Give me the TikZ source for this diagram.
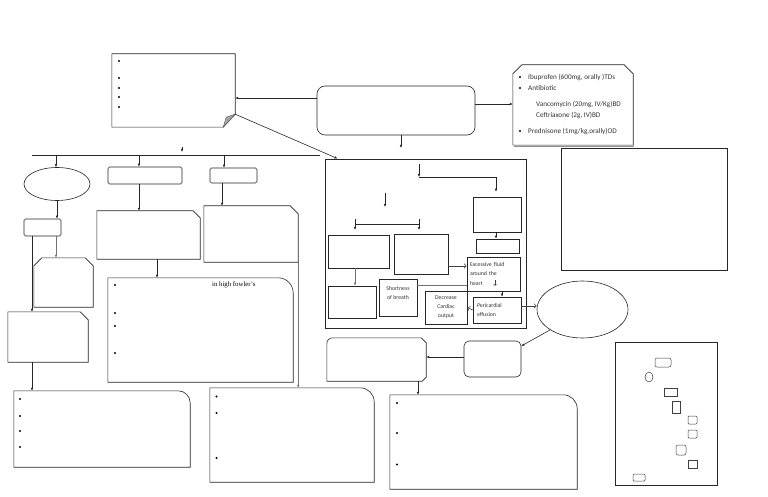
\documentclass[tikz,border=0pt]{standalone}
\usepackage{fontspec}
\setmainfont{Carlito}
\newfontfamily\serifnote{Liberation Serif}
\usetikzlibrary{arrows.meta,shapes.geometric}
\newcommand\nechamf[2]{\draw[ln] (#1.south west) -- (#1.north west) -- ([xshift=-#2]#1.north east) -- ([yshift=-#2]#1.north east) -- (#1.south east) -- cycle;}
\newcommand\twochamf[2]{\draw[ln] (#1.south west) -- ([yshift=-#2]#1.north west) -- ([xshift=#2]#1.north west) -- ([xshift=-#2]#1.north east) -- ([yshift=-#2]#1.north east) -- (#1.south east) -- cycle;}
\newcommand\nercorner[2]{\draw[ln] (#1.south west) -- (#1.north west) -- ([xshift=-#2]#1.north east) .. controls ([xshift=-0.45*#2]#1.north east) and ([yshift=-0.45*#2]#1.north east) .. ([yshift=-#2]#1.north east) -- (#1.south east) -- cycle;}
\begin{document}
\begin{tikzpicture}[x=1pt,y=-1pt,
  ln/.style={draw=black!85, line width=0.6pt},
  gln/.style={draw=black!55, line width=0.6pt},
  box/.style={ln, rectangle, inner sep=0pt},
  blank/.style={draw=none, rectangle, inner sep=0pt},
  oval/.style={ln, ellipse, inner sep=0pt},
  arr/.style={draw=black!85, line width=0.6pt, -{Latex[length=3pt,width=2.6pt]}},
  garr/.style={draw=black!55, line width=0.6pt, -{Latex[length=3pt,width=2.6pt]}},
  oarr/.style={draw=black!75, line width=0.6pt, -{Straight Barb[length=2.2pt,width=4.5pt]}},
  mtxt/.style={font=\fontsize{7.2}{8}\selectfont, text=black!80, inner sep=0pt},
  stxt/.style={font=\fontsize{5.8}{9}\selectfont, text=black!80, inner sep=0pt},
  small/.style={draw=black!75, line width=0.5pt, rectangle, inner sep=0pt},
]
\useasboundingbox (0,0) rectangle (768,497);
\fill[white] (0,0) rectangle (768,497);

% ---------- top row ----------
\node[blank, minimum width=123pt, minimum height=73pt] (tl) at (173.5,90.5) {};
\draw[ln] (tl.north west) -- (tl.north east) -- ([yshift=13pt]tl.south east) -- ([xshift=-12pt]tl.south east) -- (tl.south west) -- cycle;
\filldraw[fill=black!35, draw=black!70, line width=0.4pt] ([xshift=-12pt]tl.south east) -- ([xshift=-9pt,yshift=10pt]tl.south east) -- ([yshift=13pt]tl.south east) -- cycle;
\coordinate (tlc) at ([yshift=13pt]tl.south east);
\foreach \yy in {61,78,88,97,107} \fill (119,\yy) circle (1.1pt);

\node[box, rounded corners=8pt, minimum width=158pt, minimum height=49pt] (top) at (396,110.5) {};

\node[blank, minimum width=120pt, minimum height=80pt] (med) at (573,105) {};
\draw[black!45, line width=1.6pt] ([xshift=-59pt,yshift=-1.3pt]med.south) -- ([xshift=61pt,yshift=-1.3pt]med.south);
\twochamf{med}{9pt}
\foreach \yy in {77,88,131} \fill (520,\yy) circle (1.1pt);
\node[mtxt, anchor=west] (m1) at (528,77) {Ibuprofen (600mg, orally )TDs};
\node[mtxt, anchor=west] (m2) at (528,88) {Antibiotic};
\node[mtxt, anchor=west] (m3) at (536,104) {Vancomycin (20mg, IV/Kg)BD};
\node[mtxt, anchor=west] (m4) at (536,115.5) {Ceftriaxone (2g, IV)BD};
\node[mtxt, anchor=west] (m5) at (528,131) {Prednisone (1mg/kg,orally)OD};

\draw[arr] (top.west |- 0,98) -- (tl.east |- 0,98);
\draw[arr] (top.east |- 0,104) -- (med.west |- 0,104);
\coordinate (topend) at (401,148);
\draw[arr] (401,135) -- (topend);

% ---------- left branch line ----------
\coordinate (hl1) at (32,155);
\coordinate (hl2) at (320,155);
\draw[ln] (hl1) -- (hl2);
\coordinate (tinyA) at (182,147.5);
\coordinate (tinyB) at (182,152);
\draw[arr] (tinyA) -- (tinyB);

\node[oval, minimum width=66pt, minimum height=33pt] (e1) at (57,184) {};
\node[box, rounded corners=1.5pt, minimum width=37pt, minimum height=17pt] (b1) at (42.5,227.5) {};
\node[box, rounded corners=1.5pt, minimum width=74pt, minimum height=17pt] (b2) at (145,175.5) {};
\node[box, rounded corners=1.5pt, minimum width=47pt, minimum height=15pt] (b3) at (233.5,175.5) {};

\draw[arr] (56,155) -- (e1.north -| 56,0);
\draw[arr] (139,155) -- (b2.north -| 139,0);
\draw[arr] (224,155) -- (b3.north -| 224,0);

\node[blank, minimum width=103pt, minimum height=48pt] (c1) at (148.5,235) {};
\nechamf{c1}{7pt}
\node[blank, minimum width=94pt, minimum height=56pt] (c2) at (251,234) {};
\nechamf{c2}{8pt}
\node[blank, minimum width=59pt, minimum height=49pt] (c3) at (63.5,282.5) {};
\twochamf{c3}{8pt}
\node[blank, minimum width=80pt, minimum height=50pt] (c4) at (48,337) {};
\nechamf{c4}{8pt}

\draw[arr] (e1.south) -- (e1.south |- b1.north);
\draw[arr] (b2.south -| 139,0) -- (c1.north -| 139,0);
\draw[arr] (b3.south -| 222,0) -- (c2.north -| 222,0);
\draw[garr] (b1.south -| 56,0) -- (c3.north -| 56,0);
\draw[arr] (b1.south -| 32,0) -- (c4.north -| 32,0);

% big rounded box
\node[blank, minimum width=185pt, minimum height=104pt] (r1) at (200.5,330) {};
\nercorner{r1}{15pt}
\foreach \yy in {285,313,326,353} \fill (115,\yy) circle (1.1pt);
\node[font=\serifnote\fontsize{6.8}{8}\selectfont, anchor=west, inner sep=0pt] (fw) at (212,285) {in high fowler’s};
\draw[arr] (c1.south -| 157,0) -- (r1.north -| 157,0);

% bottom boxes
\node[blank, minimum width=176pt, minimum height=76pt] (bA) at (102,429) {};
\nercorner{bA}{12pt}
\foreach \yy in {399,416,431,447} \fill (20,\yy) circle (1.1pt);

\node[blank, minimum width=164pt, minimum height=94pt] (bB) at (292,435) {};
\nercorner{bB}{14pt}
\foreach \yy in {396.5,413,458} \fill (216.5,\yy) circle (1.1pt);

\node[blank, minimum width=187pt, minimum height=94pt] (bC) at (483.5,442) {};
\nercorner{bC}{14pt}
\foreach \yy in {403,433,464.5} \fill (397,\yy) circle (1.1pt);

\draw[arr] (c4.south -| 32,0) -- (bA.north -| 32,0);
\draw[garr] (c2.south east) -- (c2.south east |- bB.north);

% ---------- main middle box ----------
\node[box, minimum width=201pt, minimum height=169pt, line width=0.8pt] (mb) at (425.5,243.5) {};
\draw[arr] (tlc) -- ([xshift=13pt]mb.north west);

\node[box, minimum width=48pt, minimum height=35pt] (rt) at (497,214.5) {};
\node[box, minimum width=43pt, minimum height=14pt] (sb) at (497.5,246) {};
\node[box, minimum width=61pt, minimum height=33pt] (L1) at (358.5,251.5) {};
\node[box, minimum width=54pt, minimum height=40pt] (L2) at (421,254) {};
\node[box, minimum width=53pt, minimum height=34pt, text width=47pt, align=left, font=\fontsize{5.8}{9.5}\selectfont, text=black!80, inner xsep=3pt] (EF) at (493.5,274) {Excessive fluid\\around the\\heart};
\node[box, minimum width=48pt, minimum height=32pt] (L3) at (352,302) {};
\node[box, minimum width=38pt, minimum height=37pt] (SB) at (398,297.5) {};
\node[stxt, align=center] (SBt) at (398,293.5) {Shortness\\of breath};
\node[box, minimum width=42pt, minimum height=33pt, align=center, font=\fontsize{5.8}{9}\selectfont, text=black!80] (DC) at (446,307.5) {Decrease\\Cardiac\\output};
\node[box, minimum width=48pt, minimum height=26pt, text width=40pt, align=left, font=\fontsize{5.8}{9}\selectfont, text=black!80, inner xsep=4pt] (PE) at (497,310) {Pericardial\\effusion};

\coordinate (i1) at (419,164);
\coordinate (i2) at (419,177);
\draw[arr] (i1) -- (i2);
\draw[arr] (i2) -| ([yshift=5pt]rt.north -| 496,0);
\coordinate (i3) at (385,193);
\coordinate (i4) at (385,207);
\draw[arr] (i3) -- (i4);
\coordinate (k1) at (355,224);
\coordinate (k2) at (419,224);
\draw[ln] (k1) -- (k2);
\draw[arr] (355,219) -- (355,230);
\draw[arr] (419,219) -- (419,230);
\draw[arr] (rt.south -| 496,0) -- (sb.north -| 496,0);
\draw[oarr] (L2.east |- 0,266) -- (EF.west |- 0,266);
\draw[garr] (L1.south -| 355,0) -- (L3.north -| 355,0);
\draw[gln] (SB.east |- 0,285) -- (EF.west |- 0,285);
\draw[arr] (EF.south -| 502,0) -- (PE.north -| 502,0);
\draw[draw=black!75, line width=0.5pt, -{Straight Barb[length=1.6pt,width=3pt]}] (495,280) -- (495,286);
\draw[oarr] (PE.west) -- (DC.east);

% ---------- right side ----------
\node[oval, minimum width=91pt, minimum height=57pt] (e2) at (582.5,309.5) {};
\draw[oarr] (PE.east |- 0,306) -- (e2.west |- 0,306);
\node[box, rounded corners=5pt, minimum width=57pt, minimum height=36pt] (rb) at (492.5,359) {};
\draw[arr] (e2.south west) -- (rb.east |- 0,346);

\node[blank, minimum width=99pt, minimum height=43pt] (bx) at (376.5,359.5) {};
\draw[ln] ([yshift=-6pt]bx.north west) .. controls ([yshift=-2.5pt]bx.north west) and ([xshift=2.5pt]bx.north west) .. ([xshift=6pt]bx.north west) -- ([xshift=-5pt]bx.north east) -- ([yshift=-5pt]bx.north east) -- ([yshift=4pt]bx.south east) -- ([xshift=-4pt]bx.south east) -- (bx.south west) -- cycle;
\draw[arr] (rb.west |- 0,357) -- (bx.east |- 0,357);
\draw[arr] (bx.south -| 418,0) -- (bC.north -| 418,0);

\node[box, line width=1pt, minimum width=166pt, minimum height=121pt] (rr) at (644,209.5) {};

\node[box, line width=0.8pt, minimum width=102pt, minimum height=143pt] (br) at (666,413.5) {};
\node[small, rounded corners=2pt, minimum width=16pt, minimum height=9pt] (s1) at (663,362.5) {};
\node[draw=black!75, line width=0.5pt, ellipse, inner sep=0pt, minimum width=8pt, minimum height=10pt] (s2) at (649,377) {};
\node[small, minimum width=13pt, minimum height=8pt] (s3) at (670.5,392) {};
\node[small, minimum width=8pt, minimum height=12pt] (s4) at (676,407) {};
\node[small, rounded corners=1pt, minimum width=9pt, minimum height=8pt] (s5) at (692.5,420) {};
\node[small, rounded corners=1pt, minimum width=9pt, minimum height=8pt] (s6) at (692.5,434) {};
\node[small, rounded corners=2pt, minimum width=10pt, minimum height=10pt] (s7) at (681,450) {};
\node[small, minimum width=9pt, minimum height=8pt] (s8) at (692.5,464) {};
\node[small, rounded corners=1pt, minimum width=12pt, minimum height=7pt] (s9) at (639,477.5) {};
\end{tikzpicture}
\end{document}
